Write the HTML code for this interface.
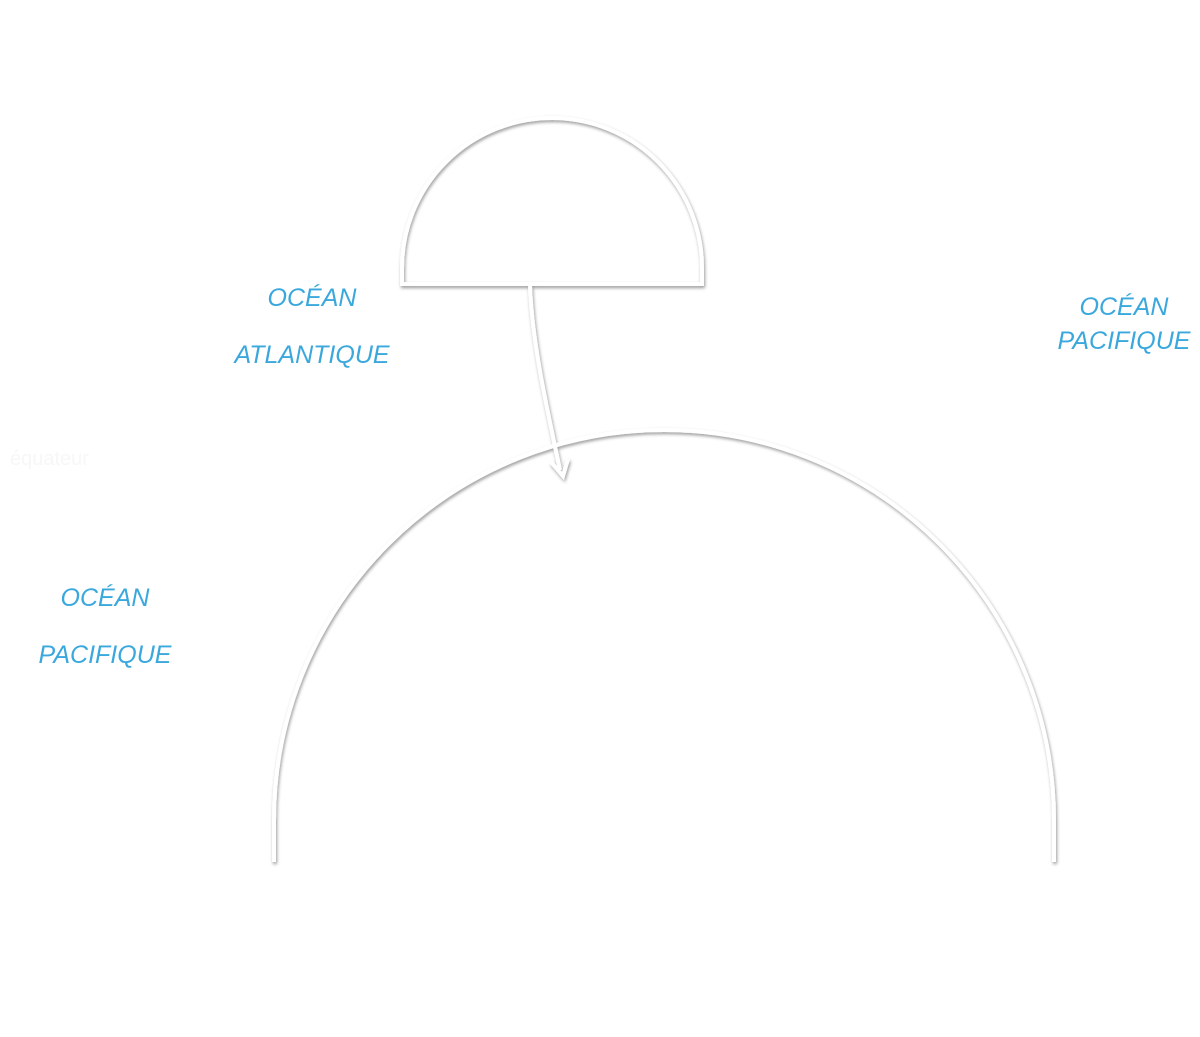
<!DOCTYPE html>
<html><head><meta charset="utf-8"><style>
body{margin:0;background:#fff;width:1200px;height:1037px;overflow:hidden;position:relative;font-family:"Liberation Sans",sans-serif}
.t{position:absolute;color:#3aa8dd;font-style:italic;font-size:25px;text-align:center;white-space:nowrap}
</style></head><body>
<svg width="1200" height="1037" style="position:absolute;left:0;top:0">
<defs><filter id="s" x="-10%" y="-10%" width="120%" height="120%"><feDropShadow dx="1" dy="2" stdDeviation="1.5" flood-color="#000" flood-opacity="0.4"/></filter></defs>
<g fill="none" stroke="#fff" stroke-width="4" filter="url(#s)">
<path d="M402 284 L402 268 A150 150 0 0 1 702 268 L702 284 Z"/>
<path d="M274 862 L274 820 A390 390 0 0 1 1054 820 L1054 862"/>
<path d="M530 286 C532 340 545 400 560 470"/>
<path d="M551 462 L563 476 L568 459"/>
</g>
<text x="10" y="465" fill="#f7f7f7" font-size="20" font-family="Liberation Sans">équateur</text>
</svg>
<div class="t" style="left:232px;top:284px;width:160px">OCÉAN</div>
<div class="t" style="left:232px;top:341px;width:160px">ATLANTIQUE</div>
<div class="t" style="left:1044px;top:293px;width:160px">OCÉAN</div>
<div class="t" style="left:1044px;top:327px;width:160px">PACIFIQUE</div>
<div class="t" style="left:25px;top:584px;width:160px">OCÉAN</div>
<div class="t" style="left:25px;top:641px;width:160px">PACIFIQUE</div>
</body></html>
